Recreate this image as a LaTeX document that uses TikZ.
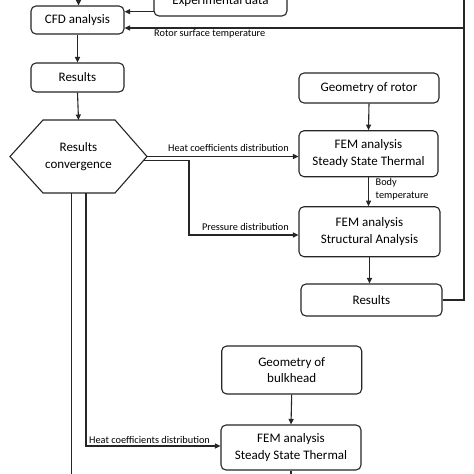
\documentclass[tikz,border=0pt]{standalone}
\usepackage{fontspec}
\setmainfont{Carlito}
\usetikzlibrary{arrows.meta,calc}
\begin{document}
\begin{tikzpicture}[x=1pt,y=-1pt,
  box/.style={draw=black!85,line width=1.1pt,rounded corners=5pt,fill=white,align=center,
    font=\fontsize{13}{16.5}\selectfont,inner sep=0pt},
  lbl/.style={font=\fontsize{10.3}{12}\selectfont,inner sep=0pt},
  ln/.style={draw=black!85,line width=1.1pt},
  arr/.style={ln,-{Triangle[length=5.5pt,width=5pt]}}]
\useasboundingbox (0,0) rectangle (474,474);
\clip (0,0) rectangle (474,474);
\fill[white] (0,0) rectangle (474,474);
% boxes
\node[box,minimum width=93pt,minimum height=28pt] (cfd) at (77.5,20) {CFD analysis};
\node[box,minimum width=133pt,minimum height=30pt] (exp) at (220.5,1) {Experimental data};
\node[box,minimum width=93pt,minimum height=29pt] (res1) at (77.5,77.5) {Results};
\node[box,minimum width=140pt,minimum height=30pt] (geor) at (369,88) {Geometry of rotor};
\node[box,minimum width=139pt,minimum height=46pt] (fem1) at (368.5,153.7) {FEM analysis\\Steady State Thermal};
\node[box,minimum width=141pt,minimum height=50pt] (fem2) at (369.5,231.7) {FEM analysis\\Structural Analysis};
\node[box,minimum width=141pt,minimum height=32pt] (res2) at (371.5,300) {Results};
\node[box,minimum width=140pt,minimum height=48pt] (geob) at (291.7,370) {Geometry of\\bulkhead};
\node[box,minimum width=140pt,minimum height=45pt] (fem3) at (291,447.5) {FEM analysis\\Steady State Thermal};
% hexagon
\coordinate (hL) at (10,156.5);
\coordinate (hTL) at (43,120);
\coordinate (hT) at (78.5,120);
\coordinate (hTR) at (115,120);
\coordinate (hR) at (147,156.5);
\coordinate (hBR) at (115,193);
\coordinate (hBL) at (43,193);
\draw[ln,fill=white] (hL) -- (hTL) -- (hTR) -- (hR) -- (hBR) -- (hBL) -- cycle;
\node[align=center,font=\fontsize{13}{17}\selectfont,inner sep=0pt] (hex) at (78.5,156.5) {Results\\convergence};
% top inputs
\coordinate (cfdin) at (78.5,-12);
\draw[arr] (cfdin) -- (cfdin |- cfd.north);
\coordinate (ea) at (154,11.7);
\draw[arr] (ea) -- (ea -| cfd.east);
% vertical chain
\draw[arr] (cfd.south) -- (res1.north);
\draw[arr] (res1.south) -- (hT);
\draw[arr] (geor.south) -- (fem1.north);
% heat coefficients to fem1
\draw[arr] (hR) -- (hR -| fem1.west);
\node[lbl,anchor=east] (lhc) at (289,148) {Heat coefficients distribution};
% pressure distribution
\coordinate (pd) at (144,160.7);
\coordinate (pd2) at (189,160.7);
\coordinate (pd3) at (189,235);
\draw[arr] (pd) -- (pd2) -- (pd3) -- (pd3 -| fem2.west);
\node[lbl,anchor=east] (lpd) at (289,227) {Pressure distribution};
% body temperature
\draw[arr] (fem1.south) -- (fem1.south |- fem2.north);
\node[lbl,anchor=north west,align=left,font=\fontsize{10.3}{13}\selectfont] (lbt) at (375.5,178) {Body\\temperature};
\draw[arr] (fem2.south) -- (fem2.south |- res2.north);
% feedback loop
\coordinate (rc) at (464,300);
\coordinate (rt) at (464,-12);
\coordinate (rl) at (464,28);
\draw[ln] (res2.east) -- (rc) -- (rt);
\draw[arr] (rl) -- (rl -| cfd.east);
\node[lbl,anchor=west] (lrst) at (154,33.5) {Rotor surface temperature};
% lower left lines
\coordinate (v1a) at (71.7,193);
\coordinate (v1b) at (71.7,490);
\draw[ln] (v1a) -- (v1b);
\coordinate (v2a) at (86,193);
\coordinate (v2b) at (86,446);
\draw[arr] (v2a) -- (v2b) -- (v2b -| fem3.west);
\node[lbl,anchor=west] (lhc2) at (89,440) {Heat coefficients distribution};
\draw[arr] (geob.south) -- (fem3.north);
\coordinate (fout) at (291,490);
\draw[ln] (fem3.south) -- (fout);
\end{tikzpicture}
\end{document}
